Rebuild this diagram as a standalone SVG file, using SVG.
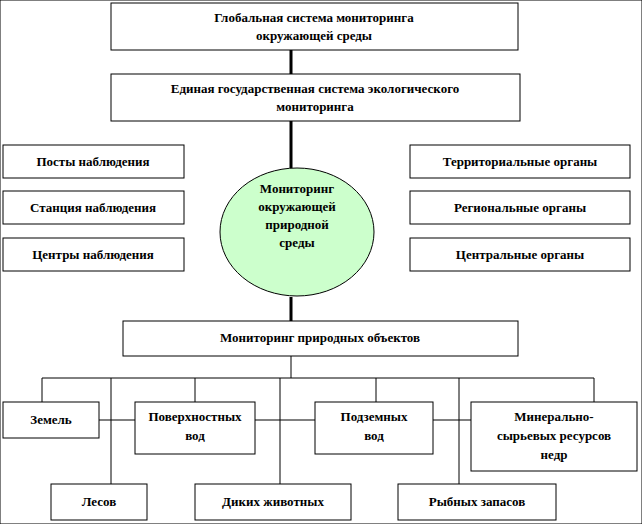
<svg xmlns="http://www.w3.org/2000/svg" width="642" height="524" viewBox="0 0 642 524">
<style>
rect{fill:#fff;stroke:#000;stroke-width:1}
text{font-family:"Liberation Serif",serif;font-weight:bold;font-size:13px;text-anchor:middle}
.c{stroke:#000;stroke-width:1;fill:none}
.t{stroke:#000;stroke-width:3;fill:none}
</style>
<rect width="642" height="524" fill="#fff" stroke="none"/>
<g id="connectors">
<path class="t" d="M291 50V74M291 121V168M291 297V321"/>
<path class="c" d="M291 356V378M42 378H594M42 378V402M111 378V484M195 378V402M280 378V484M376 378V402M459 378V484M594 378V402M99 420H135M255 420H315M433 420H471"/>
</g>
<g id="n1"><rect x="111" y="3" width="407" height="47"/><text x="314" y="22">Глобальная система мониторинга</text><text x="314" y="40">окружающей среды</text></g>
<g id="n2"><rect x="111" y="74" width="409" height="47"/><text x="315" y="93">Единая государственная система экологического</text><text x="315" y="111">мониторинга</text></g>
<g id="n3"><rect x="3" y="145" width="181" height="33"/><text x="93" y="166">Посты наблюдения</text></g>
<g id="n4"><rect x="3" y="191" width="181" height="33"/><text x="93" y="212">Станция наблюдения</text></g>
<g id="n5"><rect x="3" y="238" width="181" height="33"/><text x="93" y="259">Центры наблюдения</text></g>
<g id="n6"><rect x="410" y="145" width="220" height="33"/><text x="520" y="166">Территориальные органы</text></g>
<g id="n7"><rect x="410" y="191" width="220" height="33"/><text x="520" y="212">Региональные органы</text></g>
<g id="n8"><rect x="410" y="238" width="220" height="33"/><text x="520" y="259">Центральные органы</text></g>
<g id="n9"><ellipse cx="297" cy="232" rx="77" ry="64" fill="#ccffcc" stroke="#000"/><text x="297" y="193">Мониторинг</text><text x="297" y="211">окружающей</text><text x="297" y="229">природной</text><text x="297" y="247">среды</text></g>
<g id="n10"><rect x="123" y="321" width="395" height="35"/><text x="320" y="342">Мониторинг природных объектов</text></g>
<g id="n11"><rect x="3" y="402" width="96" height="36"/><text x="51" y="424">Земель</text></g>
<g id="n12"><rect x="135" y="402" width="120" height="52"/><text x="195" y="421">Поверхностных</text><text x="195" y="440">вод</text></g>
<g id="n13"><rect x="315" y="402" width="118" height="52"/><text x="374" y="421">Подземных</text><text x="374" y="440">вод</text></g>
<g id="n14"><rect x="471" y="402" width="166" height="69"/><text x="554" y="421">Минерально-</text><text x="554" y="440">сырьевых ресурсов</text><text x="554" y="459">недр</text></g>
<g id="n15"><rect x="51" y="484" width="96" height="36"/><text x="99" y="506">Лесов</text></g>
<g id="n16"><rect x="195" y="484" width="156" height="36"/><text x="273" y="506">Диких животных</text></g>
<g id="n17"><rect x="398" y="484" width="158" height="36"/><text x="477" y="506">Рыбных запасов</text></g>
</svg>
